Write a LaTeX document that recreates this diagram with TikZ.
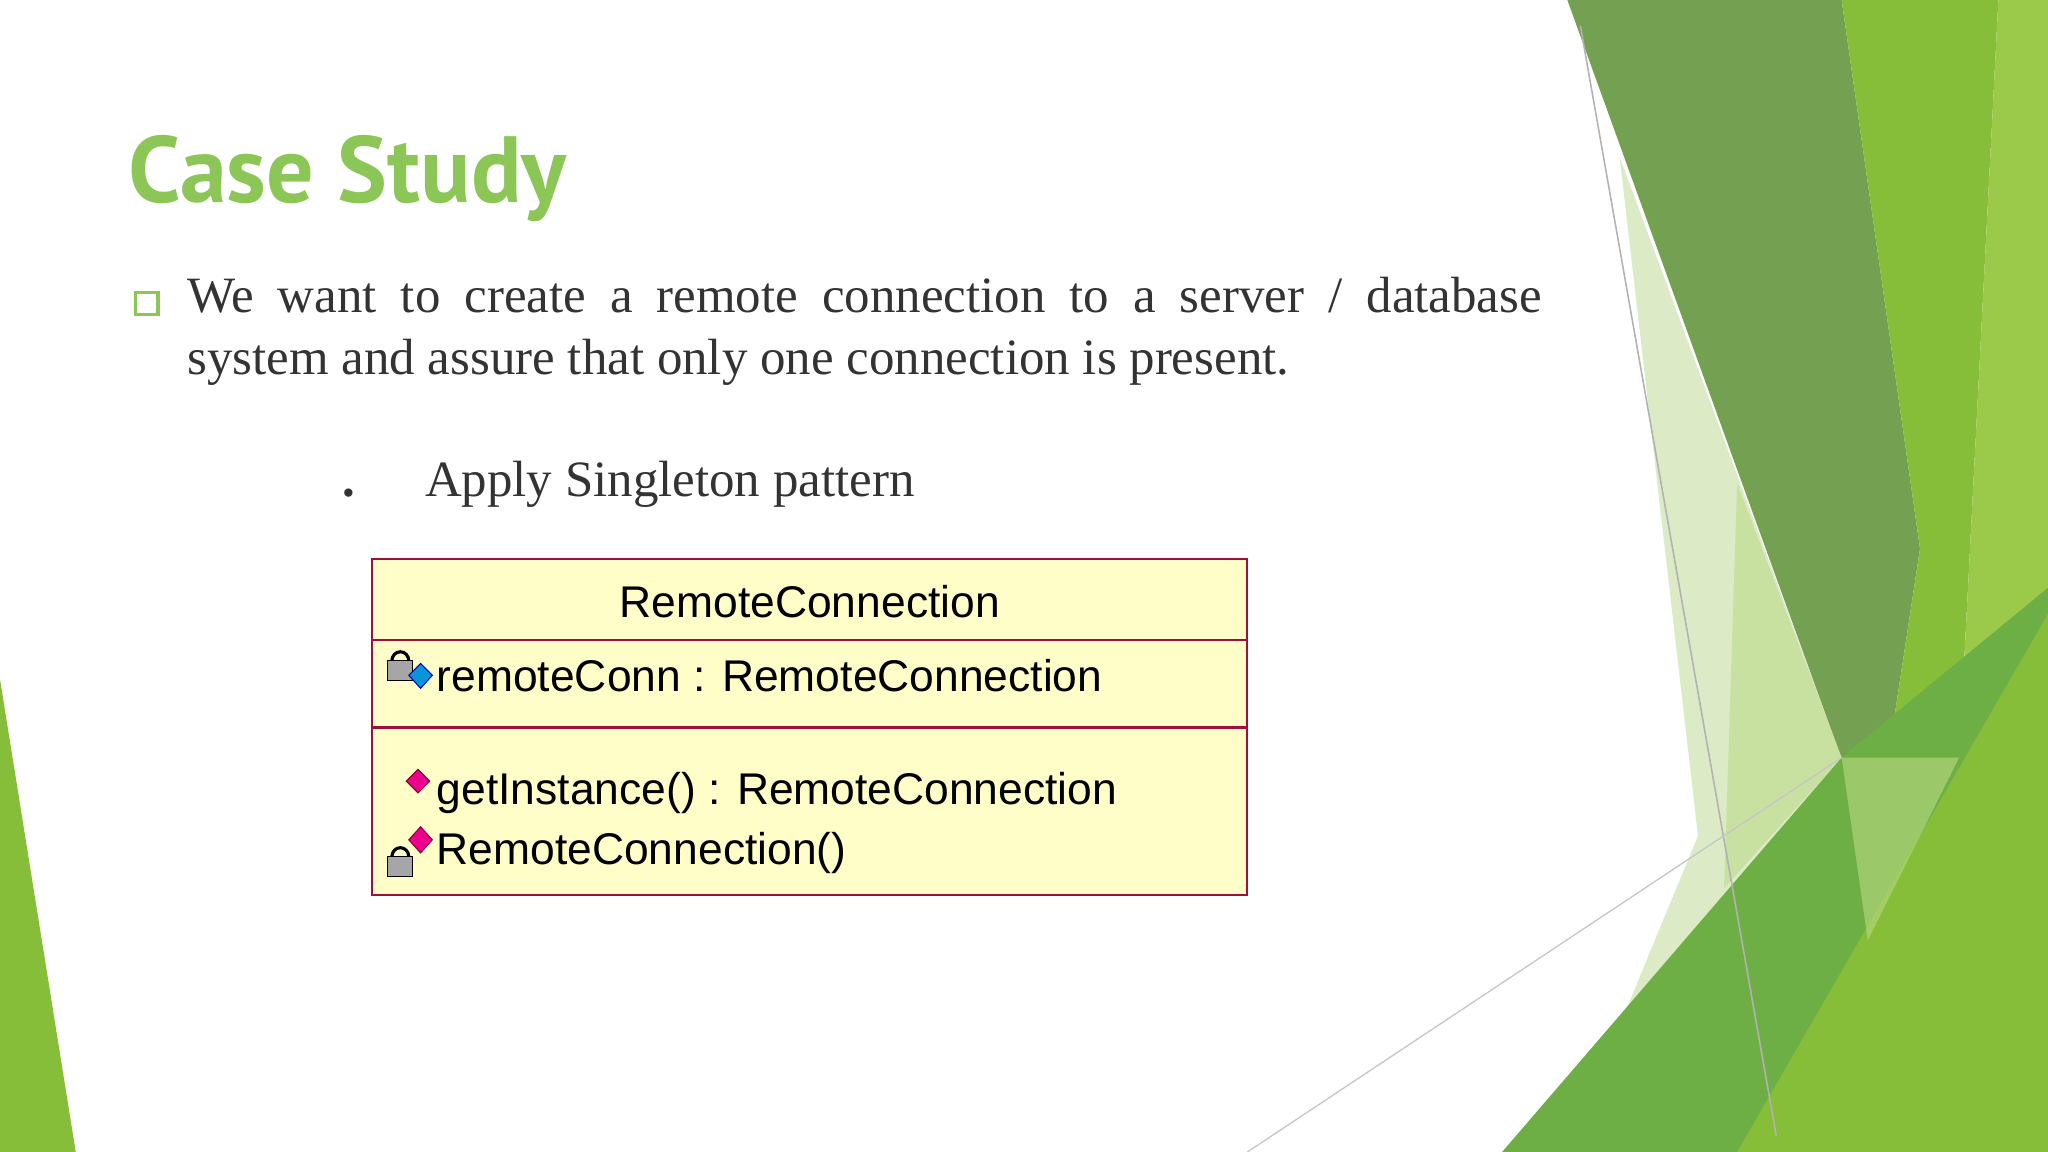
\documentclass[tikz,border=0pt]{standalone}
\usepackage{fontspec}
\setmainfont{Liberation Serif}
\newfontfamily\titlefont{PT Sans}
\newfontfamily\umlfont{Liberation Sans}
\definecolor{tgreen}{HTML}{8CC656}
\definecolor{dgreen}{HTML}{74A051}
\definecolor{bgreen}{HTML}{86BE3A}
\definecolor{lgreen}{HTML}{9BC94A}
\definecolor{mgreen}{HTML}{6EAF45}
\definecolor{pgreen}{HTML}{DCEBC6}
\definecolor{umlfill}{HTML}{FFFDC8}
\definecolor{umlline}{HTML}{A0103C}
\begin{document}
\begin{tikzpicture}[x=0.5pt,y=-0.5pt,
  member/.style={font=\umlfont\fontsize{17}{20}\selectfont,anchor=west,inner sep=0pt},
  lockicon/.style={fill=gray!70,draw=black,line width=0.4pt}]
\useasboundingbox (0,0) rectangle (1568,882);
% right decorations
\fill[pgreen] (1240,120) -- (1410,580) -- (1330,882) -- (1200,882) -- (1300,640) -- cycle;
\fill[dgreen] (1200,0) -- (1410,0) -- (1470,420) -- (1435,650) -- cycle;
\fill[bgreen] (1410,0) -- (1530,0) -- (1500,580) -- (1435,650) -- (1470,420) -- cycle;
\fill[lgreen] (1530,0) -- (1568,0) -- (1568,470) -- (1500,580) -- cycle;
\fill[pgreen!70!lgreen] (1330,370) -- (1410,580) -- (1320,680) -- cycle;
\fill[mgreen] (1150,882) -- (1410,580) -- (1568,450) -- (1568,882) -- cycle;
\fill[bgreen] (1330,882) -- (1568,470) -- (1568,882) -- cycle;
\fill[lgreen!70!white,opacity=0.6] (1410,580) -- (1500,580) -- (1430,720) -- cycle;
\draw[gray!60,line width=0.6pt] (1210,20) -- (1360,870);
\draw[gray!45,line width=0.5pt] (955,882) -- (1410,580);
% left triangle
\fill[bgreen] (0,520) -- (58,882) -- (0,882) -- cycle;
% title
\node[anchor=base west,inner sep=0pt,text=tgreen,font=\titlefont\bfseries\fontsize{36}{40}\selectfont] (title) at (98,155) {Case Study};
% bullet
\draw[tgreen,line width=1.2pt] (104,224) rectangle (121,241);
\node[anchor=north west,inner sep=0pt,text width=518.5pt,align=justify,text=black!80,font=\fontsize{19.5}{23.5}\selectfont] (body) at (143,212)
 {We want to create a remote connection to a server / database\linebreak system and assure that only one connection is present.};
\node[anchor=base west,inner sep=0pt,text=black!80,font=\bfseries\fontsize{19.5}{22}\selectfont] (dot) at (262,380) {.};
\node[anchor=base west,inner sep=0pt,text=black!80,font=\fontsize{19.5}{22}\selectfont] (apply) at (325,380) {Apply Singleton pattern};
% UML box
\draw[umlline,fill=umlfill,line width=0.8pt] (285,428) rectangle (955,685);
\draw[umlline,line width=0.8pt] (285,490) -- (955,490);
\draw[umlline,line width=0.8pt] (285,557) -- (955,557);
\node[font=\umlfont\fontsize{17}{20}\selectfont,inner sep=0pt] (cname) at (620,461) {RemoteConnection};
\node[member] (attr) at (334,517) {remoteConn : RemoteConnection};
\node[member] (op1) at (334,607) {getInstance() : RemoteConnection};
\node[member] (op2) at (334,653) {RemoteConnection()};
% icons
\draw[black,line width=1.2pt] (300,506) arc (180:360:6.5 and 7);
\draw[lockicon] (297,506) rectangle (316,521);
\fill[cyan!80!blue,draw=blue!70!black] (322,508) -- (331,517) -- (322,527) -- (313,517) -- cycle;
\fill[magenta,draw=purple!70!black] (320,589) -- (329,598) -- (320,607) -- (311,598) -- cycle;
\draw[black,line width=1.2pt] (300,656) arc (180:360:6.5 and 7);
\draw[lockicon] (297,656) rectangle (316,671);
\fill[magenta,draw=purple!70!black] (322,633) -- (331,643) -- (322,653) -- (313,643) -- cycle;
\end{tikzpicture}
\end{document}
